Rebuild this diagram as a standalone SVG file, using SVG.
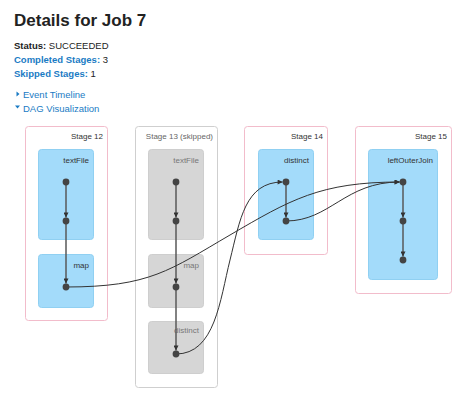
<svg xmlns="http://www.w3.org/2000/svg" width="474" height="402" viewBox="0 0 474 402">
<style>
text{font-family:"Liberation Sans",Arial,sans-serif}
.title{font-size:17px;font-weight:bold;fill:#222}
.info{font-size:9.5px;fill:#222}
.b{font-weight:bold}
.link{fill:#1a7bc4}
.stage{fill:#fff;stroke:#f2bccb;stroke-width:1}
.stage.skip{stroke:#cfcfcf}
.slabel{font-size:8px;fill:#333;text-anchor:end}
.slabel.skip{fill:#666}
.node{fill:#a3dbfa;stroke:#90d0f2;stroke-width:1}
.node.skip{fill:#d6d6d6;stroke:#cecece}
.nlabel{font-size:8px;fill:#333;text-anchor:end}
.nlabel.skip{fill:#777}
.dot{fill:#444}
.inner{fill:none;stroke:#585858;stroke-width:1.5}
.cross{fill:none;stroke:#333;stroke-width:1}
</style>
<defs>
<marker id="ah" viewBox="0 0 10 10" refX="10" refY="5" markerWidth="6" markerHeight="5" markerUnits="userSpaceOnUse" orient="auto">
<path d="M0,0 L10,5 L0,10 z" fill="#333"/>
</marker>
</defs>
<rect width="474" height="402" fill="#fff"/>
<g id="header">
<text class="title" x="14" y="26">Details for Job 7</text>
<text class="info" x="14" y="49"><tspan class="b">Status:</tspan> SUCCEEDED</text>
<text class="info" x="14" y="63"><tspan class="b link">Completed Stages:</tspan> 3</text>
<text class="info" x="14" y="77"><tspan class="b link">Skipped Stages:</tspan> 1</text>
<path d="M16.5,91.5 L19.5,94 L16.5,96.5 z" fill="#1a7bc4"/>
<text class="info link" x="23" y="98">Event Timeline</text>
<path d="M15,105.5 L20,105.5 L17.5,108.5 z" fill="#1a7bc4"/>
<text class="info link" x="23" y="112">DAG Visualization</text>
</g>
<g id="stage12">
<rect class="stage" x="25.5" y="126.5" width="82" height="194" rx="3"/>
<text class="slabel" x="103" y="139">Stage 12</text>
</g>
<g id="stage13">
<rect class="stage skip" x="135.5" y="126.5" width="82" height="261" rx="3"/>
<text class="slabel skip" x="213" y="139">Stage 13 (skipped)</text>
</g>
<g id="stage14">
<rect class="stage" x="244.5" y="126.5" width="83" height="128" rx="3"/>
<text class="slabel" x="323" y="139">Stage 14</text>
</g>
<g id="stage15">
<rect class="stage" x="355.5" y="126.5" width="96" height="167" rx="3"/>
<text class="slabel" x="447" y="139">Stage 15</text>
</g>
<g id="s12-textFile">
<rect class="node" x="38.5" y="149.5" width="55" height="90" rx="3"/>
<text class="nlabel" x="89" y="163">textFile</text>
</g>
<g id="s12-map">
<rect class="node" x="38.5" y="254.5" width="55" height="53" rx="3"/>
<text class="nlabel" x="89" y="268">map</text>
</g>
<g id="s13-textFile">
<rect class="node skip" x="148.5" y="149.5" width="55" height="90" rx="3"/>
<text class="nlabel skip" x="199" y="163">textFile</text>
</g>
<g id="s13-map">
<rect class="node skip" x="148.5" y="254.5" width="55" height="53" rx="3"/>
<text class="nlabel skip" x="199" y="268">map</text>
</g>
<g id="s13-distinct">
<rect class="node skip" x="148.5" y="321.5" width="55" height="52" rx="3"/>
<text class="nlabel skip" x="199" y="333">distinct</text>
</g>
<g id="s14-distinct">
<rect class="node" x="258.5" y="149.5" width="55" height="90" rx="3"/>
<text class="nlabel" x="309" y="163">distinct</text>
</g>
<g id="s15-leftOuterJoin">
<rect class="node" x="368.5" y="149.5" width="69" height="130" rx="3"/>
<text class="nlabel" x="433" y="163">leftOuterJoin</text>
</g>
<g id="connectors">
<path class="inner" marker-end="url(#ah)" d="M66,182 L66,217.6"/>
<path class="inner" marker-end="url(#ah)" d="M66,221 L66,283.6"/>
<path class="inner" marker-end="url(#ah)" d="M176,182 L176,217.6"/>
<path class="inner" marker-end="url(#ah)" d="M176,221 L176,283.6"/>
<path class="inner" marker-end="url(#ah)" d="M176,287 L176,350.6"/>
<path class="inner" marker-end="url(#ah)" d="M286,182 L286,217.6"/>
<path class="inner" marker-end="url(#ah)" d="M403,182 L403,217.6"/>
<path class="inner" marker-end="url(#ah)" d="M403,221 L403,256.6"/>
<path class="cross" marker-end="url(#ah)" d="M66,287 C150,287 170,270 230,235 S320,182 399.6,182"/>
<path class="cross" marker-end="url(#ah)" d="M176,354 C215,354 220,300 230,260 S245,182 282.6,182"/>
<path class="cross" marker-end="url(#ah)" d="M286,221 C330,221 345,182 399.6,182"/>
</g>
<g id="dots">
<circle class="dot" cx="66" cy="182" r="3.4"/>
<circle class="dot" cx="66" cy="221" r="3.4"/>
<circle class="dot" cx="66" cy="287" r="3.4"/>
<circle class="dot" cx="176" cy="182" r="3.4"/>
<circle class="dot" cx="176" cy="221" r="3.4"/>
<circle class="dot" cx="176" cy="287" r="3.4"/>
<circle class="dot" cx="176" cy="354" r="3.4"/>
<circle class="dot" cx="286" cy="182" r="3.4"/>
<circle class="dot" cx="286" cy="221" r="3.4"/>
<circle class="dot" cx="403" cy="182" r="3.4"/>
<circle class="dot" cx="403" cy="221" r="3.4"/>
<circle class="dot" cx="403" cy="260" r="3.4"/>
</g>
</svg>
